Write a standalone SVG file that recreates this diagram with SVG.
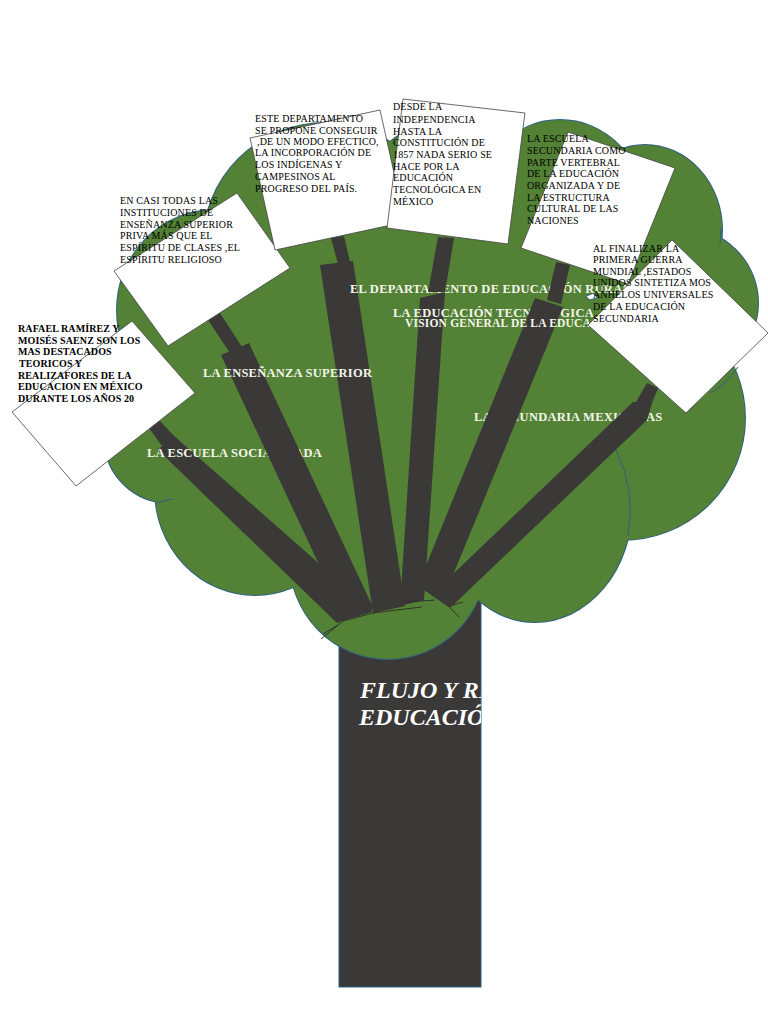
<svg xmlns="http://www.w3.org/2000/svg" width="768" height="1024" viewBox="0 0 768 1024">
<style>
.c{fill:#538135;stroke:#2f6082;stroke-width:2}
.f{fill:#538135}
.b{fill:#3b3838}
.t{stroke:#2a2a2a;stroke-width:.9;fill:none}
.e{stroke:#2f6082;stroke-width:1;fill:none}
.box{fill:#fff;stroke:#444;stroke-width:.8}
.n{font:10px "Liberation Serif",serif;fill:#000;letter-spacing:.15px}
.nb{font:bold 10px "Liberation Serif",serif;fill:#000;letter-spacing:.1px}
.l{font:bold 12.5px "Liberation Serif",serif;fill:#f4f6ea;letter-spacing:.25px}
.h{font:italic bold 24px "Liberation Serif",serif;fill:#fff}
</style>
<defs>
<clipPath id="tc"><rect x="339" y="600" width="142" height="390"/></clipPath>
<g id="lobes">
<ellipse cx="388" cy="560" rx="98" ry="99"/>
<ellipse cx="255" cy="490" rx="100" ry="105"/>
<ellipse cx="170" cy="440" rx="65" ry="63"/>
<ellipse cx="215" cy="310" rx="98" ry="100"/>
<ellipse cx="325" cy="245" rx="122" ry="122"/>
<ellipse cx="450" cy="230" rx="100" ry="110"/>
<ellipse cx="560" cy="210" rx="85" ry="90"/>
<ellipse cx="645" cy="230" rx="77" ry="85"/>
<ellipse cx="682" cy="303" rx="76" ry="75"/>
<ellipse cx="622" cy="418" rx="123" ry="122"/>
<ellipse cx="535" cy="505" rx="97" ry="117"/>
<ellipse cx="400" cy="400" rx="230" ry="175"/>
</g>
</defs>
<g id="trunk">
<rect x="339" y="590" width="142" height="397" fill="#3b3838" stroke="#2f6082" stroke-width="1"/>
<g clip-path="url(#tc)">
<text class="h" x="360" y="698">FLUJO Y REFLUJO</text>
<text class="h" x="359" y="725">EDUCACIÓN</text>
</g>
</g>
<g id="crown">
<use href="#lobes" class="c"/>
<use href="#lobes" class="f"/>
<path class="e" d="M616,450 Q636,490 628,536 M157,503 Q165,500 173,499 M721,228 L720,244 M710,393 Q726,385 738,367"/>
</g>
<g id="connectors">
<polygon class="b" points="331,238 344,236 350,262 338,264"/>
<polygon class="b" points="320,265 353,261 405,606 373,613"/>
<polygon class="b" points="149,428 160,421 174,436 162,446"/>
<polygon class="b" points="158,450 173,435 372,610 337,623"/>
<text class="l" x="147" y="457">LA ESCUELA SOCIALIZADA</text>
<polygon class="b" points="208,320 220,313 242,347 230,353"/>
<polygon class="b" points="221,355 249,343 372,605 372,612 345,620"/>
<text class="l" x="203" y="377">LA ENSEÑANZA SUPERIOR</text>
<text class="l" x="350" y="293">EL DEPARTAMENTO DE EDUCACIÓN RURAL</text>
<polygon class="b" points="438,237 454,238 445,292 428,292"/>
<polygon class="b" points="420,298 445,292 424,600 400,606"/>
<text class="l" x="393" y="317">LA EDUCACIÓN TECNOLÓGICA</text>
<text class="l" x="474" y="421">LA SECUNDARIA MEXICANAS</text>
<polygon class="b" points="556,262 570,265 561,304 547,300"/>
<polygon class="b" points="535,298 563,307 453,575 450,600 424,590 420,600 415,570 427,563"/>
<text class="l" x="405" y="327" style="font-size:11.5px;letter-spacing:.2px">VISION GENERAL DE LA EDUCACIÓN</text>
<polygon class="b" points="647,383 658,388 652,403 647,420 450,608 424,590 440,578 453,574 633,402 636,402"/>
<path class="t" d="M321,639 L343,621 M323,634 L338,625 M343,621 L373,613 L405,609 L422,607 M407,602 L435,600 M450,608 L459,617 M453,605 L463,602"/>
</g>
<g id="box1">
<polygon class="box" points="12,412 132,321 195,393 76,486"/>
<text class="nb"><tspan x="18" y="332">RAFAEL RAMÍREZ  Y</tspan><tspan x="18" y="344">MOISÉS SAENZ  SON LOS</tspan><tspan x="18" y="355">MAS DESTACADOS</tspan><tspan x="19" y="367">TEORICOS Y</tspan><tspan x="18" y="379">REALIZAFORES DE LA</tspan><tspan x="18" y="390">EDUCACION EN MÉXICO</tspan><tspan x="18" y="402">DURANTE LOS AÑOS 20</tspan></text>
</g>
<g id="box2">
<polygon class="box" points="114,271 237,193 290,268 168,346"/>
<text class="n"><tspan x="120" y="204">EN CASI TODAS LAS</tspan><tspan x="120" y="216">INSTITUCIONES DE</tspan><tspan x="120" y="228">ENSEÑANZA SUPERIOR</tspan><tspan x="120" y="239">PRIVA MÁS QUE EL</tspan><tspan x="120" y="251">ESPÍRITU DE CLASES ,EL</tspan><tspan x="120" y="263">ESPÍRITU RELIGIOSO</tspan></text>
</g>
<g id="box3">
<polygon class="box" points="250,138 380,110 405,222 275,250"/>
<text class="n"><tspan x="255" y="122">ESTE DEPARTAMENTO</tspan><tspan x="255" y="134">SE PROPONE CONSEGUIR</tspan><tspan x="257" y="145">,DE UN MODO EFECTICO,</tspan><tspan x="255" y="156">LA INCORPORACIÓN DE</tspan><tspan x="255" y="168">LOS INDÍGENAS Y</tspan><tspan x="255" y="180">CAMPESINOS AL</tspan><tspan x="255" y="192">PROGRESO DEL PAÍS.</tspan></text>
</g>
<g id="box4">
<polygon class="box" points="403,99 525,113 508,244 387,228"/>
<text class="n"><tspan x="393" y="110">DESDE LA</tspan><tspan x="393" y="123">INDEPENDENCIA</tspan><tspan x="393" y="135">HASTA LA</tspan><tspan x="393" y="146">CONSTITUCIÓN DE</tspan><tspan x="393" y="158">1857 NADA SERIO SE</tspan><tspan x="393" y="170">HACE POR LA</tspan><tspan x="393" y="181">EDUCACIÓN</tspan><tspan x="393" y="193">TECNOLÓGICA EN</tspan><tspan x="393" y="205">MÉXICO</tspan></text>
</g>
<g id="box5">
<polygon class="box" points="568,132 675,168 628,284 521,248"/>
<text class="n"><tspan x="527" y="142">LA ESCUELA</tspan><tspan x="527" y="154">SECUNDARIA COMO</tspan><tspan x="527" y="166">PARTE VERTEBRAL</tspan><tspan x="527" y="177">DE LA EDUCACIÓN</tspan><tspan x="527" y="189">ORGANIZADA Y DE</tspan><tspan x="527" y="201">LA ESTRUCTURA</tspan><tspan x="527" y="212">CULTURAL DE LAS</tspan><tspan x="527" y="224">NACIONES</tspan></text>
</g>
<g id="box6">
<polygon class="box" points="672,240 768,333 686,413 588,325"/>
<text class="n"><tspan x="593" y="252">AL FINALIZAR LA</tspan><tspan x="593" y="263">PRIMERA GUERRA</tspan><tspan x="593" y="275">MUNDIAL ,ESTADOS</tspan><tspan x="593" y="286">UNIDOS SINTETIZA MOS</tspan><tspan x="593" y="298">ANHELOS UNIVERSALES</tspan><tspan x="593" y="310">DE LA EDUCACIÓN</tspan><tspan x="593" y="322">SECUNDARIA</tspan></text>
</g>
</svg>
